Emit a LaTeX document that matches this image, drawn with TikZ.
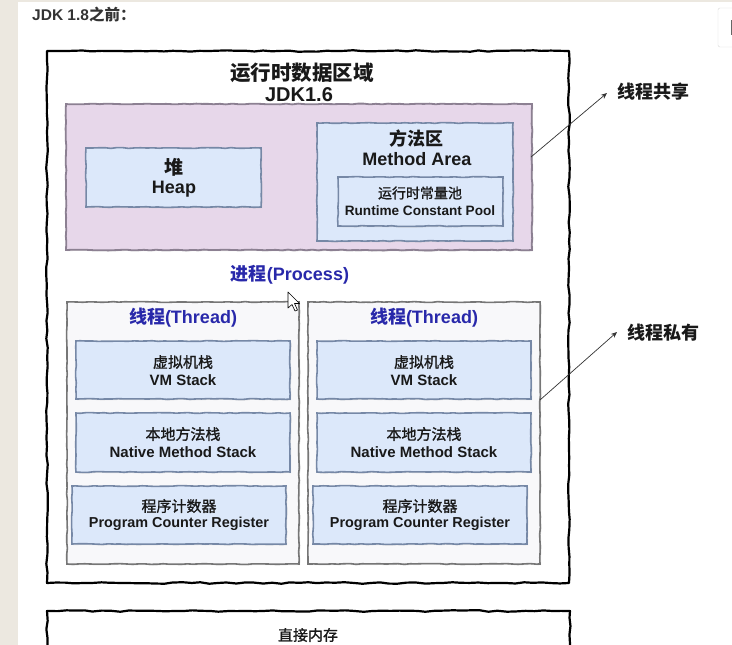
\documentclass[tikz,border=0pt]{standalone}
\usepackage{fontspec}
\setmainfont{Liberation Sans}
\newfontfamily\cjk{Noto Sans CJK SC}
\newfontfamily\cjkm[FakeBold=1.2]{Noto Sans CJK SC}
\usetikzlibrary{decorations.pathmorphing,shadows,arrows.meta}
\newcommand{\zhs}[1]{{\cjk #1}}
\newcommand{\zhm}[1]{{\cjkm #1}}
\newcommand{\fsz}[1]{\fontsize{#1}{#1}\selectfont}
\definecolor{beige}{RGB}{236,232,224}
\definecolor{purfill}{RGB}{231,215,234}
\definecolor{purdraw}{RGB}{140,128,146}
\definecolor{bluefill}{RGB}{220,232,250}
\definecolor{bluedraw}{RGB}{118,136,166}
\definecolor{thrfill}{RGB}{248,248,250}
\definecolor{thrdraw}{RGB}{118,118,118}
\definecolor{bluetxt}{RGB}{40,40,170}
\definecolor{darktxt}{RGB}{25,25,25}
\begin{document}
\begin{tikzpicture}[x=1pt,y=-1pt,
  wob/.style={decorate, decoration={random steps, segment length=6pt, amplitude=0.4pt}},
  bigwob/.style={decorate, decoration={random steps, segment length=9pt, amplitude=0.8pt}},
  outerbox/.style={draw=black, line width=2.2pt, fill=white, inner sep=0pt, bigwob, line join=round},
  purbox/.style={draw=purdraw, line width=1.8pt, fill=purfill, inner sep=0pt, wob,
     drop shadow={shadow xshift=1.2pt, shadow yshift=-1.2pt, fill=black!22}},
  bluebox/.style={draw=bluedraw, line width=1.6pt, fill=bluefill, inner sep=0pt, wob,
     drop shadow={shadow xshift=1.2pt, shadow yshift=-1.2pt, fill=black!22}},
  thrbox/.style={draw=thrdraw, line width=1.6pt, fill=thrfill, inner sep=0pt, wob,
     drop shadow={shadow xshift=1.2pt, shadow yshift=-1.2pt, fill=black!18}},
  txt/.style={inner sep=0pt, text=darktxt},
  arr/.style={draw=black!80, line width=0.7pt, -{Stealth[length=6pt,width=5pt]}}
]
\useasboundingbox (0,0) rectangle (732,645);
\clip (0,0) rectangle (732,645);
\fill[white] (0,0) rectangle (732,645);
\fill[beige] (0,0) rectangle (18,645);
\fill[beige] (18,0) rectangle (732,2);

% header
\node[txt, anchor=west, font=\fsz{15.5}\bfseries, text=black!80] (hdr) at (32,15) {JDK 1.8\zhs{之前：}};

% top-right widget
\draw[black!15, fill=white, rounded corners=2pt] (718,8) rectangle (745,47);
\fill[black!60] (730.5,20) rectangle (732,35);

% outer box
\node[outerbox, minimum width=522pt, minimum height=532pt] (outer) at (308,317) {};
\node[txt, font=\fsz{20.5}\bfseries] (t1) at (302,73) {\zhs{运行时数据区域}};
\node[txt, font=\fsz{20}\bfseries] (t2) at (299,95) {JDK1.6};

% shared area
\node[purbox, minimum width=466pt, minimum height=146pt] (pur) at (299,177) {};
\node[bluebox, minimum width=175pt, minimum height=59pt] (heap) at (173.5,177.5) {};
\node[txt, font=\fsz{19}\bfseries] (heapz) at (174,167) {\zhs{堆}};
\node[txt, font=\fsz{18}\bfseries] (heape) at (174,189) {Heap};
\node[bluebox, minimum width=196pt, minimum height=118pt] (meth) at (415,182) {};
\node[txt, font=\fsz{18}\bfseries] (methz) at (416,139) {\zhs{方法区}};
\node[txt, font=\fsz{18}\bfseries] (methe) at (417,159) {Method Area};
\node[bluebox, minimum width=165pt, minimum height=49pt] (rcp) at (420.5,201.5) {};
\node[txt, font=\fsz{14}] (rcpz) at (420,193) {\zhm{运行时常量池}};
\node[txt, font=\fsz{13.6}\bfseries] (rcpe) at (420,210.5) {Runtime Constant Pool};

% process
\node[txt, font=\fsz{18}\bfseries, text=bluetxt] (proc) at (290,275) {\zhs{进程}(Process)};

% threads
\foreach \dx/\nm in {0/a, 241/b} {
  \node[thrbox, minimum width=232pt, minimum height=262pt] (thr\nm) at (183+\dx,433) {};
  \node[txt, font=\fsz{18}\bfseries, text=bluetxt] (thrt\nm) at (183+\dx,318) {\zhs{线程}(Thread)};
  \node[bluebox, minimum width=214pt, minimum height=58pt] (vm\nm) at (183+\dx,370) {};
  \node[txt, font=\fsz{15}] (vmz\nm) at (183+\dx,362) {\zhm{虚拟机栈}};
  \node[txt, font=\fsz{15}\bfseries] (vme\nm) at (183+\dx,380) {VM Stack};
  \node[bluebox, minimum width=214pt, minimum height=59pt] (nat\nm) at (183+\dx,442.5) {};
  \node[txt, font=\fsz{15}] (natz\nm) at (183+\dx,434) {\zhm{本地方法栈}};
  \node[txt, font=\fsz{15}\bfseries] (nate\nm) at (183+\dx,452) {Native Method Stack};
  \node[bluebox, minimum width=214pt, minimum height=58pt] (pc\nm) at (179+\dx,515) {};
  \node[txt, font=\fsz{15}] (pcz\nm) at (179+\dx,506) {\zhm{程序计数器}};
  \node[txt, font=\fsz{14.4}\bfseries] (pce\nm) at (179+\dx,524) {Program Counter Register};
}

% cursor
\draw[black, fill=white, line width=0.6pt, line join=round]
  (288,292) -- (288,308) -- (292,304.5) -- (295,311) -- (297.5,310) -- (294.5,303.5) -- (299.5,303.5) -- cycle;

% side labels and arrows
\node[txt, anchor=west, font=\fsz{18}\bfseries] (share) at (617,92) {\zhs{线程共享}};
\node[txt, anchor=west, font=\fsz{18}\bfseries] (priv) at (627,333) {\zhs{线程私有}};
\coordinate (s1) at (531,157);
\coordinate (s2) at (540,400);
\draw[arr] (s1) -- ([xshift=-10pt,yshift=-1pt]share.west);
\draw[arr] (s2) -- ([xshift=-10pt,yshift=1pt]priv.west);

% direct memory box (cut off)
\node[outerbox, minimum width=523pt, minimum height=60pt] (direct) at (308.5,641) {};
\node[txt, font=\fsz{15}] (directt) at (308,635) {\zhm{直接内存}};
\end{tikzpicture}
\end{document}
